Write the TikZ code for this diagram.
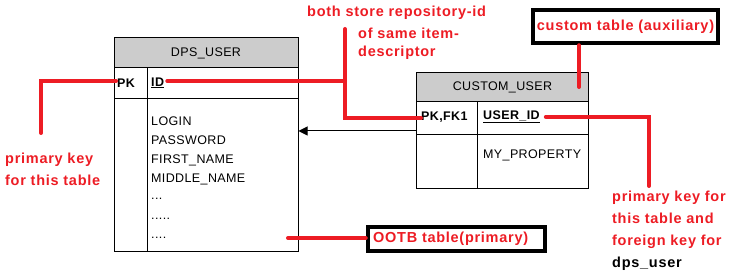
\documentclass[tikz,border=0pt]{standalone}
\usepackage{fontspec}
\setmainfont{Liberation Sans}
\newfontfamily\notefont[LetterSpace=5]{Liberation Sans}
\newfontfamily\fldfont[LetterSpace=3]{Liberation Sans}
\usetikzlibrary{arrows.meta}
\definecolor{rd}{HTML}{ED1C24}
\definecolor{hdr}{HTML}{CCCCCC}
\begin{document}
\begin{tikzpicture}[x=1pt,y=-1pt,
  cell/.style={draw=black,line width=1pt,inner sep=0pt},
  fld/.style={inner sep=0pt,anchor=west,font=\fldfont\fontsize{12.5}{14}\selectfont},
  key/.style={inner sep=0pt,anchor=west,font=\fldfont\fontsize{12.5}{14}\selectfont\bfseries},
  note/.style={inner sep=0pt,text=rd,font=\notefont\fontsize{14.5}{22}\selectfont\bfseries},
  redline/.style={draw=rd,line width=4pt,line cap=round,line join=miter},
  callbox/.style={draw=black,line width=4.5pt,inner sep=0pt,fill=white},
  fk/.style={draw=black,line width=1pt,-{Triangle[length=9pt,width=9pt]}}]
\useasboundingbox (0,0) rectangle (734,280);
% DPS_USER table
\node[cell,fill=hdr,minimum width=184pt,minimum height=30pt,font=\fldfont\fontsize{12.5}{14}\selectfont] (dh) at (206,53) {DPS\_USER};
\node[cell,minimum width=184pt,minimum height=31pt] (dk) at (206,83.5) {};
\node[cell,minimum width=184pt,minimum height=153pt] (db) at (206,175.5) {};
\draw[line width=1pt] (147,68) -- (147,252);
\node[key] (pk) at (117,83) {PK};
\node[key] (id) at (151,83) {\underline{ID}};
\node[fld] (f1) at (151,121) {LOGIN};
\node[fld] (f2) at (151,140.5) {PASSWORD};
\node[fld] (f3) at (151,160) {FIRST\_NAME};
\node[fld] (f4) at (151,179.5) {MIDDLE\_NAME};
\node[fld] (f5) at (151,199) {...};
\node[fld] (f6) at (151,218.5) {.....};
\node[fld] (f7) at (151,238) {....};
% CUSTOM_USER table
\node[cell,fill=hdr,minimum width=172pt,minimum height=29pt,font=\fldfont\fontsize{12.5}{14}\selectfont] (ch) at (502.5,87) {CUSTOM\_USER};
\node[cell,minimum width=172pt,minimum height=33pt] (ck) at (502.5,118) {};
\node[cell,minimum width=172pt,minimum height=54pt] (cb) at (502.5,162) {};
\draw[line width=1pt] (477,101.5) -- (477,189);
\node[key] (pkfk) at (421,117) {PK,FK1};
\node[key] (uid) at (483,117) {\underline{USER\_ID}};
\node[fld] (mp) at (483,155) {MY\_PROPERTY};
% foreign key connector
\draw[fk] (cb.west |- 0,131) -- (db.east |- 0,131);
% notes
\node[note,anchor=west] (n1a) at (307,13) {both store repository-id};
\node[note,anchor=west] (n1b) at (358,33) {of same item-};
\node[note,anchor=west] (n1c) at (358,53) {descriptor};
\node[note,anchor=north west,align=left] (n2) at (5,153) {primary key\\for this table};
\node[note,anchor=north west,align=left] (n3) at (612,191) {primary key for\\this table and\\foreign key for\\\textcolor{black}{dps\_user}};
\node[callbox,minimum width=185pt,minimum height=33pt] (cbox) at (625.5,26.5) {};
\node[note] (ctxt) at (cbox.center) {custom table (auxiliary)};
\node[callbox,minimum width=177pt,minimum height=24pt] (obox) at (456.5,239) {};
\node[note,anchor=west] (otxt) at (373,239) {OOTB table(primary)};
% red leader lines
\coordinate (a1) at (41,81);
\coordinate (a2) at (41,133);
\draw[redline] ([xshift=-1pt]pk.west |- 0,81) -- (a1) -- (a2);
\coordinate (b1) at (345,81);
\coordinate (b2) at (345,29);
\coordinate (b3) at (345,118);
\draw[redline] ([xshift=3pt]id.east |- 0,81) -- (b1);
\draw[redline] (b2) -- (b3) -- (pkfk.west |- 0,118);
\coordinate (c1) at (579,87);
\draw[redline] (cbox.south -| c1) -- (c1);
\coordinate (d1) at (649,117);
\coordinate (d2) at (649,186);
\draw[redline] ([xshift=6pt]uid.east |- 0,117) -- (d1) -- (d2);
\coordinate (e1) at (288,238);
\draw[redline] (e1) -- (obox.west |- 0,238);
\end{tikzpicture}
\end{document}
